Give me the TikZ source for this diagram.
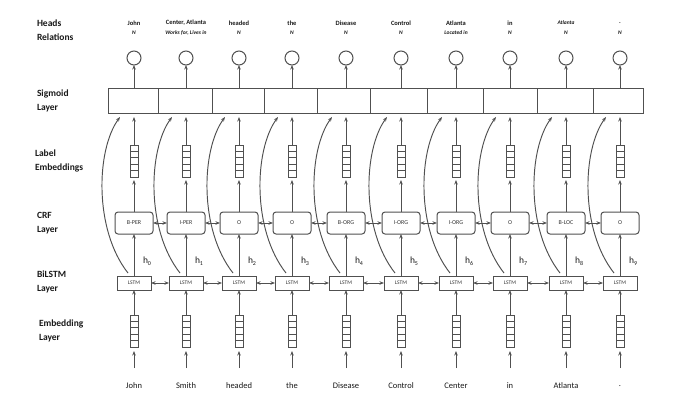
\documentclass[tikz,border=0pt]{standalone}
\usepackage{fontspec}
\setmainfont{Carlito}
\usetikzlibrary{arrows.meta}
\definecolor{ln}{HTML}{505050}
\begin{document}
\begin{tikzpicture}[x=1pt,y=-1pt,
  every node/.style={inner sep=0pt,outer sep=0pt},
  arr/.style={draw=ln,line width=0.95pt,-{Stealth[length=4.5pt,width=3.5pt]}},
  darr/.style={draw=ln,line width=0.95pt,{Stealth[length=4.5pt,width=3.5pt]}-{Stealth[length=4.5pt,width=3.5pt]}},
  layerlbl/.style={anchor=west,align=left,font=\fontsize{9.5}{13.5}\selectfont\bfseries,text=black!90},
  crfbox/.style={draw=ln,line width=1pt,rounded corners=3pt,minimum width=38pt,minimum height=22pt},
  lstmbox/.style={draw=ln,line width=1pt,minimum width=34pt,minimum height=14pt,font=\fontsize{5.5}{6}\selectfont,text=black!80},
  circ/.style={draw=ln,line width=1pt,circle,minimum size=14pt},
  vecbox/.style={draw=ln,line width=0.85pt,minimum width=8pt,minimum height=32pt},
  head/.style={font=\fontsize{6.5}{7}\selectfont\bfseries,text=black!90},
  rel/.style={font=\fontsize{5.5}{6}\selectfont\bfseries\itshape,text=black!90},
  word/.style={font=\fontsize{8.5}{9}\selectfont,text=black!90},
  hlbl/.style={font=\fontsize{9.5}{9}\selectfont,text=black!90,anchor=west}
]
\useasboundingbox (0,0) rectangle (679,405);
% layer labels
\node[layerlbl] (Lh) at (37,30) {Heads\\Relations};
\node[layerlbl] (Ls) at (37,101) {Sigmoid\\Layer};
\node[layerlbl] (Ll) at (35,161) {Label\\Embeddings};
\node[layerlbl] (Lc) at (37,223) {CRF\\Layer};
\node[layerlbl] (Lb) at (37,282) {BiLSTM\\Layer};
\node[layerlbl] (Le) at (39,331) {Embedding\\Layer};
% sigmoid layer cells
\foreach \i/\a/\b in {0/108/158,1/158/212,2/212/264,3/264/317,4/317/370,5/370/427,6/427/483,7/483/537,8/537/593,9/593/643}{
  \draw[ln,line width=0.9pt] (\a,88) rectangle (\b,113);
}
\foreach \i/\c/\w/\rr/\t in {0/134/John/N/head,1/186/{Center, Atlanta}/{Works for, Lives in}/head,2/239/headed/N/head,3/292/the/N/head,4/346/Disease/N/head,5/401/Control/N/head,6/456/Atlanta/{Located in}/head,7/510/in/N/head,8/566/Atlanta/N/rel,9/620/./N/head}{
  \node[\t] (T\i) at (\c,23) {\w};
  \node[rel] (R\i) at (\c,33) {\rr};
  \node[circ] (C\i) at (\c,58) {};
  \coordinate (St\i) at (\c,88);
  \coordinate (Sb\i) at (\c,117);
  \coordinate (Sc\i) at (\c-14,117);
  \draw[arr] (St\i) -- (C\i.south);
  \node[vecbox] (LE\i) at (\c,161) {};
  \foreach \k in {1,...,4}{\draw[ln,line width=0.7pt] (\c-4,145+6.4*\k) -- (\c+4,145+6.4*\k);}
  \draw[arr] (LE\i.north) -- (Sb\i);
  \node[crfbox] (CRF\i) at (\c,223) {};
  \draw[arr] (CRF\i.north) -- ([yshift=-3pt]LE\i.south);
  \node[lstmbox] (LS\i) at (\c,283) {LSTM};
  \draw[arr] (LS\i.north) -- (CRF\i.south);
  \node[hlbl] (H\i) at (\c+9,261) {h\raisebox{-2pt}{\fontsize{6}{6}\selectfont\i}};
  \coordinate (cs\i) at (\c-6,273);
  \draw[arr] (cs\i) .. controls (\c-40,230) and (\c-38,150) .. (Sc\i);
  \node[vecbox] (E\i) at (\c,331) {};
  \foreach \k in {1,...,4}{\draw[ln,line width=0.7pt] (\c-4,315+6.4*\k) -- (\c+4,315+6.4*\k);}
  \draw[arr] (E\i.north) -- (LS\i.south);
  \coordinate (wb\i) at (\c,368);
  \draw[arr] (wb\i) -- ([yshift=-4pt]E\i.south);
}
% CRF labels
\foreach \i/\l in {0/B-PER,1/I-PER,2/O,3/O,4/B-ORG,5/I-ORG,6/I-ORG,7/O,8/B-LOC,9/O}{
  \node[font=\fontsize{6}{6}\selectfont,text=black!80] (CL\i) at (CRF\i) {\l};
}
% horizontal double arrows
\foreach \i [evaluate=\i as \j using int(\i+1)] in {0,...,8}{
  \draw[darr] (CRF\i.east) -- (CRF\j.west);
  \draw[darr] (LS\i.east) -- (LS\j.west);
}
% words
\foreach \i/\c/\w in {0/134/John,1/186/Smith,2/239/headed,3/292/the,4/346/Disease,5/401/Control,6/456/Center,7/510/in,8/566/Atlanta,9/620/.}{
  \node[word] (W\i) at (\c,386) {\w};
}
\end{tikzpicture}
\end{document}
